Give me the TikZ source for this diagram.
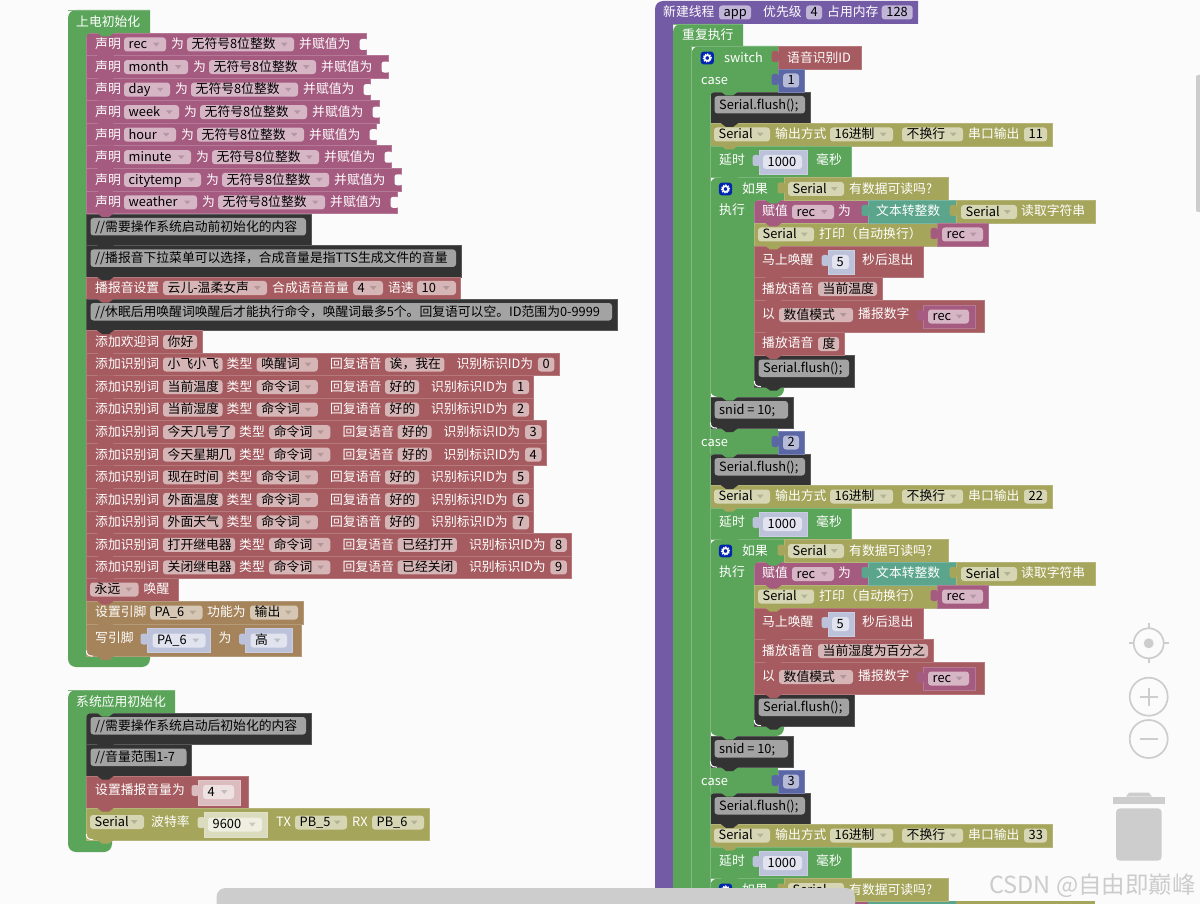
\documentclass[tikz,border=0pt]{standalone}
\usepackage{fontspec}
\setmainfont{Noto Sans CJK SC}
\definecolor{bgpage}{HTML}{FBFBFB}
\definecolor{blockgreen}{HTML}{5BA55B}
\definecolor{blockpurple}{HTML}{745BA5}
\definecolor{blockred}{HTML}{A55B5F}
\definecolor{blockpink}{HTML}{A55B80}
\definecolor{blockolive}{HTML}{A5A55B}
\definecolor{blockbrown}{HTML}{A5845B}
\definecolor{blockteal}{HTML}{5BA58C}
\definecolor{blockblue}{HTML}{5B67A5}
\definecolor{blockdark}{HTML}{333333}
\definecolor{shadowblue}{HTML}{BDC2DB}
\definecolor{shadowred}{HTML}{DBBDBF}
\definecolor{shadowolive}{HTML}{DBDBBD}
\definecolor{uigrey}{HTML}{CDCDCD}
\pgfdeclarelayer{blockbg}
\pgfdeclarelayer{blocktab}
\pgfdeclarelayer{topbar}
\pgfsetlayers{blockbg,blocktab,main,topbar}
\tikzset{
  lab/.style={anchor=west,inner sep=0pt,text=white,text height=11.7pt,text depth=2pt,font=\fontsize{12.8}{15}\selectfont},
  fieldtxt/.style={lab,text=black},
  fieldbg/.style={fill=white,fill opacity=.55,rounded corners=3pt},
  ddarrow/.style={fill=black,fill opacity=.16},
}
\newcounter{nodeno}
\newcommand{\lab}[3]{\stepcounter{nodeno}\node[lab] (n\thenodeno) at (#1,#2) {#3};}
\newcommand{\fld}[4]{\fill[fieldbg] (#1,#3-7) rectangle (#2,#3+7);
  \stepcounter{nodeno}\node[fieldtxt] (n\thenodeno) at (#1+4.5,#3-.5) {#4};}
\newcommand{\ddn}[4]{\fld{#1}{#2}{#3}{#4}
  \fill[ddarrow] (#2-13,#3-1.8) -- (#2-6.5,#3-1.8) -- (#2-9.75,#3+2) -- cycle;}
\newcommand{\tabdn}[3]{\begin{pgfonlayer}{blocktab}
  \fill[#3] (#1+11,#2-.3) -- (#1+16,#2+3.5) -- (#1+23,#2+3.5) -- (#1+28,#2-.3) -- cycle;
  \end{pgfonlayer}}
\newcommand{\topin}[3]{\tabdn{#1}{#2}{#3}\begin{pgfonlayer}{blocktab}
  \fill[#3] (#1-.3,#2-.3) -- (#1+6,#2-.3) .. controls (#1+2,#2) and (#1,#2+2) .. (#1,#2+6) -- (#1-.3,#2+6) -- cycle;
  \end{pgfonlayer}}
\newcommand{\botin}[2]{\begin{pgfonlayer}{blocktab}
  \draw[white,line width=1pt] (#1+.4,#2-6) .. controls (#1+.4,#2-2) and (#1+2,#2-.4) .. (#1+7,#2-.4);
  \end{pgfonlayer}}
\newcommand{\blk}[5]{\begin{pgfonlayer}{blockbg}
  \fill[#5] (#1,#2) rectangle (#3,#4);
  \draw[#5!82!white,line width=.6pt] (#1,#2) rectangle (#3,#4);
  \end{pgfonlayer}\tabdn{#1}{#4}{#5}}
\newcommand{\cmt}[4]{\blk{#1}{#2}{#3}{#2+31.5}{blockdark}
  \fill[fieldbg] (#1+4.5,#2+4) rectangle (#3-5,#2+21.5);
  \stepcounter{nodeno}\node[fieldtxt] (n\thenodeno) at (#1+9,#2+12.3) {#4};}
\newcommand{\val}[5]{\fill[#5] (#1,#2) rectangle (#3,#4);
  \draw[#5!82!white,line width=.6pt] (#1,#2) rectangle (#3,#4);
  \fill[#5,rounded corners=2.5pt] (#1-6.5,#2+5) rectangle (#1+1,#2+16);}
\newcommand{\hole}[2]{\fill[bgpage,rounded corners=2.5pt] (#1-6.5,#2+6) rectangle (#1+2,#2+17);}
\newcommand{\gearicon}[2]{\fill[blue!62!black!85!cyan,rounded corners=3pt] (#1-6.6,#2-6.4) rectangle (#1+6.6,#2+6.4);
  \draw[white,line width=1.4pt,dash pattern=on 1.3pt off 1.06pt] (#1,#2) circle (3.9pt);
  \draw[white,line width=1.6pt] (#1,#2) circle (2.8pt);}
\newcommand{\cbody}[8]{\begin{pgfonlayer}{blockbg}
  \fill[blockgreen] (#3,#5) -- (#3,#4) [rounded corners=8pt] -- (#1,#4) -- (#1,#8) -- (#6,#8) [sharp corners] -- (#6,#7) -- (#2,#7) -- (#2,#5) -- cycle;
  \draw[blockgreen!82!white,line width=.6pt] (#1,#4) -- (#3,#4);
  \end{pgfonlayer}}
\newcommand{\casehead}[4]{%
  \begin{pgfonlayer}{blockbg}\fill[blockgreen] (691.5,#1-2) rectangle (778,#1+23);\end{pgfonlayer}
  \lab{701}{#1+11}{case}
  \val{778}{#1}{804}{#1+23}{blockblue} \fld{783}{799}{#1+11.5}{#2}
  \topin{710}{#1+23}{blockgreen}
  \cmt{710}{#1+23}{810}{Serial.flush();}
  \blk{710}{#1+54}{1052}{#1+77}{blockolive}
  \ddn{714}{770}{#1+65.5}{Serial} \lab{775}{#1+65}{输出方式} \ddn{830}{893}{#1+65.5}{16进制}
  \ddn{902}{963}{#1+65.5}{不换行} \lab{968}{#1+65}{串口输出} \fld{1024}{1047}{#1+65.5}{#3}
  \blk{710}{#1+77}{851}{#1+108.5}{blockgreen}
  \lab{719}{#1+91}{延时} \val{759}{#1+81}{807}{#1+105}{shadowblue} \fld{763}{802}{#1+93}{1000} \lab{816}{#1+91}{毫秒}
  \cbody{710}{754}{784}{#1+108.5}{#1+131}{784}{#4}{#4+10}
  \gearicon{725.5}{#1+120}
  \lab{742}{#1+120}{如果}
  \val{784}{#1+108.5}{948}{#1+131}{blockolive} \ddn{788}{844}{#1+120}{Serial} \lab{849}{#1+120}{有数据可读吗?}
}
\newcommand{\caseinner}[2]{%
  \tabdn{710}{#2+10}{blockgreen}
  \lab{719}{#1+141}{执行}
  \topin{754}{#1+131}{blockgreen}
  \blk{754}{#1+131}{868}{#1+154}{blockpink}
  \lab{762}{#1+142}{赋值} \ddn{792}{834}{#1+143}{rec} \lab{838}{#1+142}{为}
  \val{868}{#1+131}{956}{#1+154}{blockteal} \lab{876}{#1+142}{文本转整数}
  \val{956}{#1+131}{1095}{#1+154}{blockolive} \ddn{961}{1017}{#1+143}{Serial} \lab{1021}{#1+142}{读取字符串}
  \blk{754}{#1+154}{937}{#1+177}{blockolive}
  \ddn{758}{814}{#1+165.5}{Serial} \lab{819}{#1+165}{打印（自动换行）}
  \val{937}{#1+154}{988}{#1+177}{blockpink} \ddn{942}{983}{#1+165.5}{rec}
  \blk{754}{#1+177}{923}{#1+208.5}{blockred}
  \lab{762}{#1+191}{马上唤醒} \val{828}{#1+181}{854}{#1+205}{shadowblue} \fld{832}{849}{#1+193}{5} \lab{862}{#1+191}{秒后退出}
  \cmt{754}{#2-31.5}{854}{Serial.flush();}
  \botin{754}{#2}
  \cmt{710}{#2+10}{793}{snid = 10;}
  \botin{710}{#2+41.5}
}

\begin{document}
\begin{tikzpicture}[x=1pt,y=-1pt]
\useasboundingbox (0,0) rectangle (1200,904);
\begin{pgfonlayer}{blockbg}
\fill[bgpage] (0,0) rectangle (1200,904);
\end{pgfonlayer}

\cbody{68}{86}{150}{10}{33}{150}{657}{667}
\lab{76}{21.5}{上电初始化}
\topin{86}{33}{blockgreen}
\foreach \vname/\rt [count=\k from 0] in {rec/366,month/388,day/370,week/379,hour/376,minute/391,citytemp/401,weather/397}{
  \pgfmathsetmacro{\yy}{33+22.55*\k}
  \blk{86}{\yy}{\rt}{\yy+22.55}{blockpink}
  \lab{95}{\yy+11}{声明} \ddn{124}{\rt-200}{\yy+11.5}{\vname} \lab{\rt-195}{\yy+11}{为}
  \ddn{\rt-179}{\rt-72}{\yy+11.5}{无符号8位整数} \lab{\rt-67}{\yy+11}{并赋值为}
  \hole{\rt}{\yy}
}
\cmt{86}{214}{311}{//需要操作系统启动前初始化的内容}
\cmt{86}{245.5}{461}{//播报音下拉菜单可以选择，合成音量是指TTS生成文件的音量}
\blk{86}{277}{460}{299}{blockred}
\lab{95}{287.5}{播报音设置} \ddn{163}{267}{288}{云儿-温柔女声} \lab{272}{287.5}{合成语音音量}
\ddn{353}{383}{288}{4} \lab{388}{287.5}{语速} \ddn{417}{456}{288}{10}
\cmt{86}{299}{617}{//休眠后用唤醒词唤醒后才能执行命令，唤醒词最多5个。回复语可以空。ID范围为0-9999}
\blk{86}{330.5}{202}{353}{blockred}
\lab{95}{341.5}{添加欢迎词} \fld{163}{197}{342}{你好}
\foreach \word/\kind/\reply/\a/\w [count=\k from 0] in {
  小飞小飞/唤醒词/诶，我在/0/59.4,
  当前温度/命令词/好的/0/34,
  当前湿度/命令词/好的/0/34,
  今天几号了/命令词/好的/12.5/34,
  今天星期几/命令词/好的/12.5/34,
  现在时间/命令词/好的/0/34,
  外面温度/命令词/好的/0/34,
  外面天气/命令词/好的/0/34,
  打开继电器/命令词/已经打开/12.5/59.4,
  关闭继电器/命令词/已经关闭/12.5/59.4}{
  \pgfmathsetmacro{\yy}{353+22.55*\k}
  \pgfmathsetmacro{\xid}{385+\a+\w+12}
  \blk{86}{\yy}{\xid+102.5}{\yy+22.55}{blockred}
  \lab{95}{\yy+11}{添加识别词} \fld{163}{222.5+\a}{\yy+11.5}{\word} \lab{226.5+\a}{\yy+11}{类型}
  \ddn{256.7+\a}{317.8+\a}{\yy+11.5}{\kind} \lab{330+\a}{\yy+11}{回复语音}
  \fld{385+\a}{385+\a+\w}{\yy+11.5}{\reply} \lab{\xid}{\yy+11}{识别标识ID为}
  \fld{\xid+81.5}{\xid+98}{\yy+11.5}{\k}
}
\blk{86}{578.5}{178}{601}{blockred}
\ddn{90}{138.5}{589.5}{永远} \lab{143.5}{589}{唤醒}
\blk{86}{601}{303.5}{624}{blockbrown}
\lab{95}{612}{设置引脚} \ddn{150}{202.5}{612.5}{PA\_6} \lab{207}{612}{功能为} \ddn{250}{298}{612.5}{输出}
\blk{86}{624}{301}{656.5}{blockbrown}
\botin{86}{656.5}
\lab{95}{638}{写引脚} \val{147}{628.5}{210.5}{652}{shadowblue} \ddn{152.5}{205.5}{640.5}{PA\_6}
\lab{218.5}{638}{为} \val{245.5}{628.5}{292}{652}{shadowblue} \ddn{250.5}{287}{640.5}{高}

\cbody{68}{86}{175}{690}{713}{112}{840}{852}
\lab{76}{701.5}{系统应用初始化}
\topin{86}{713}{blockgreen}
\cmt{86}{713}{311}{//需要操作系统启动后初始化的内容}
\cmt{86}{744.5}{191.5}{//音量范围1-7}
\blk{86}{776}{248}{808}{blockred}
\lab{95}{790}{设置播报音量为} \val{198}{780}{240}{805}{shadowred} \ddn{203}{234}{792}{4}
\blk{86}{808}{429}{840}{blockolive}
\botin{86}{840}
\ddn{90}{144}{822}{Serial} \lab{151}{822}{波特率} \val{204}{812}{267}{837}{shadowolive} \ddn{208}{262}{824.5}{9600}
\lab{276}{822}{TX} \ddn{295}{347}{822.5}{PB\_5} \lab{352}{822}{RX} \ddn{372}{424}{822.5}{PB\_6}

\begin{pgfonlayer}{blockbg}
\fill[blockpurple] (918,24) -- (918,1) [rounded corners=8pt] -- (655,1) -- (655,930) -- (673,930) [sharp corners] -- (673,24) -- cycle;
\end{pgfonlayer}
\lab{663}{12}{新建线程} \fld{719}{751}{12.5}{app} \lab{763}{12}{优先级} \fld{806}{822}{12.5}{4}
\lab{827}{12}{占用内存} \fld{881.7}{912.7}{12.5}{128}
\cbody{673}{691.5}{743}{24}{46}{691.5}{930}{930}
\lab{682}{34.5}{重复执行}
\cbody{691.5}{710}{778}{46}{92}{710}{930}{930}
\begin{pgfonlayer}{blocktab}
\draw[blockgreen!78!white,line width=.7pt] (691.5,46) -- (691.5,904) (710,92) -- (710,904);
\end{pgfonlayer}
\gearicon{707.3}{58}
\lab{724}{57.5}{switch}
\val{778}{46}{861}{69}{blockred} \lab{787}{57.5}{语音识别ID}

\casehead{69}{1}{11}{387}
\caseinner{69}{387}
\blk{754}{277.5}{882}{300}{blockred}
\lab{762}{288.5}{播放语音} \fld{818}{877}{289}{当前温度}
\blk{754}{300}{984}{332}{blockred}
\lab{762}{314}{以} \ddn{779}{853}{315}{数值模式} \lab{858}{314}{播报数字}
\val{923}{305}{975}{328}{blockpink} \ddn{928}{969}{316.5}{rec}
\blk{754}{332}{844}{355.5}{blockred}
\lab{762}{343}{播放语音} \fld{818}{839}{344}{度}

\casehead{431}{2}{22}{726}
\caseinner{431}{726}
\blk{754}{639.5}{933}{662}{blockred}
\lab{762}{650.5}{播放语音} \fld{818}{928}{651}{当前湿度为百分之}
\blk{754}{662}{984}{694.5}{blockred}
\lab{762}{676}{以} \ddn{779}{853}{677}{数值模式} \lab{858}{676}{播报数字}
\val{923}{667}{975}{690}{blockpink} \ddn{928}{969}{678.5}{rec}

\casehead{770}{3}{33}{930}
\begin{pgfonlayer}{blockbg}
\fill[blockpink] (754,901) rectangle (868,910);
\fill[blockteal] (868,901) rectangle (956,910);
\fill[blockolive] (956,901) rectangle (1095,910);
\end{pgfonlayer}

\begin{pgfonlayer}{topbar}
\fill[uigrey,rounded corners=9pt] (216.5,888) rectangle (855,925);
\fill[uigrey,rounded corners=2pt] (1196,75) rectangle (1210,212);
\draw[uigrey,line width=1.7pt] (1148.7,643.3) circle (15pt);
\fill[uigrey] (1148.7,643.3) circle (5pt);
\foreach \ang in {0,90,180,270}{
  \draw[uigrey,line width=1.7pt] (1148.7,643.3) ++(\ang:15pt) -- ++(\ang:5pt);
}
\node[draw=uigrey,line width=1.7pt,circle,minimum size=38pt,inner sep=0pt] (zoomin) at (1148.7,696.7) {};
\draw[uigrey,line width=1.7pt] (zoomin.center) ++(-9,0) -- ++(18,0) (zoomin.center) ++(0,-9) -- ++(0,18);
\node[draw=uigrey,line width=1.7pt,circle,minimum size=38pt,inner sep=0pt] (zoomout) at (1148.7,739) {};
\draw[uigrey,line width=1.7pt] (zoomout.center) ++(-9,0) -- ++(18,0);
\fill[uigrey] (1112.7,796.7) rectangle (1165,804);
\fill[uigrey] (1126,796.7) -- (1129,792.7) -- (1149,792.7) -- (1152,796.7) -- cycle;
\fill[uigrey,rounded corners=4pt] (1116,808.3) -- (1161.7,808.3) -- (1161.7,860.7) -- (1116,860.7) -- cycle;
\node[anchor=east,inner sep=0pt,text=black!20,font=\fontsize{23.5}{26}\selectfont] (mark) at (1196,886) {CSDN @自由即巅峰};
\end{pgfonlayer}
\end{tikzpicture}
\end{document}
